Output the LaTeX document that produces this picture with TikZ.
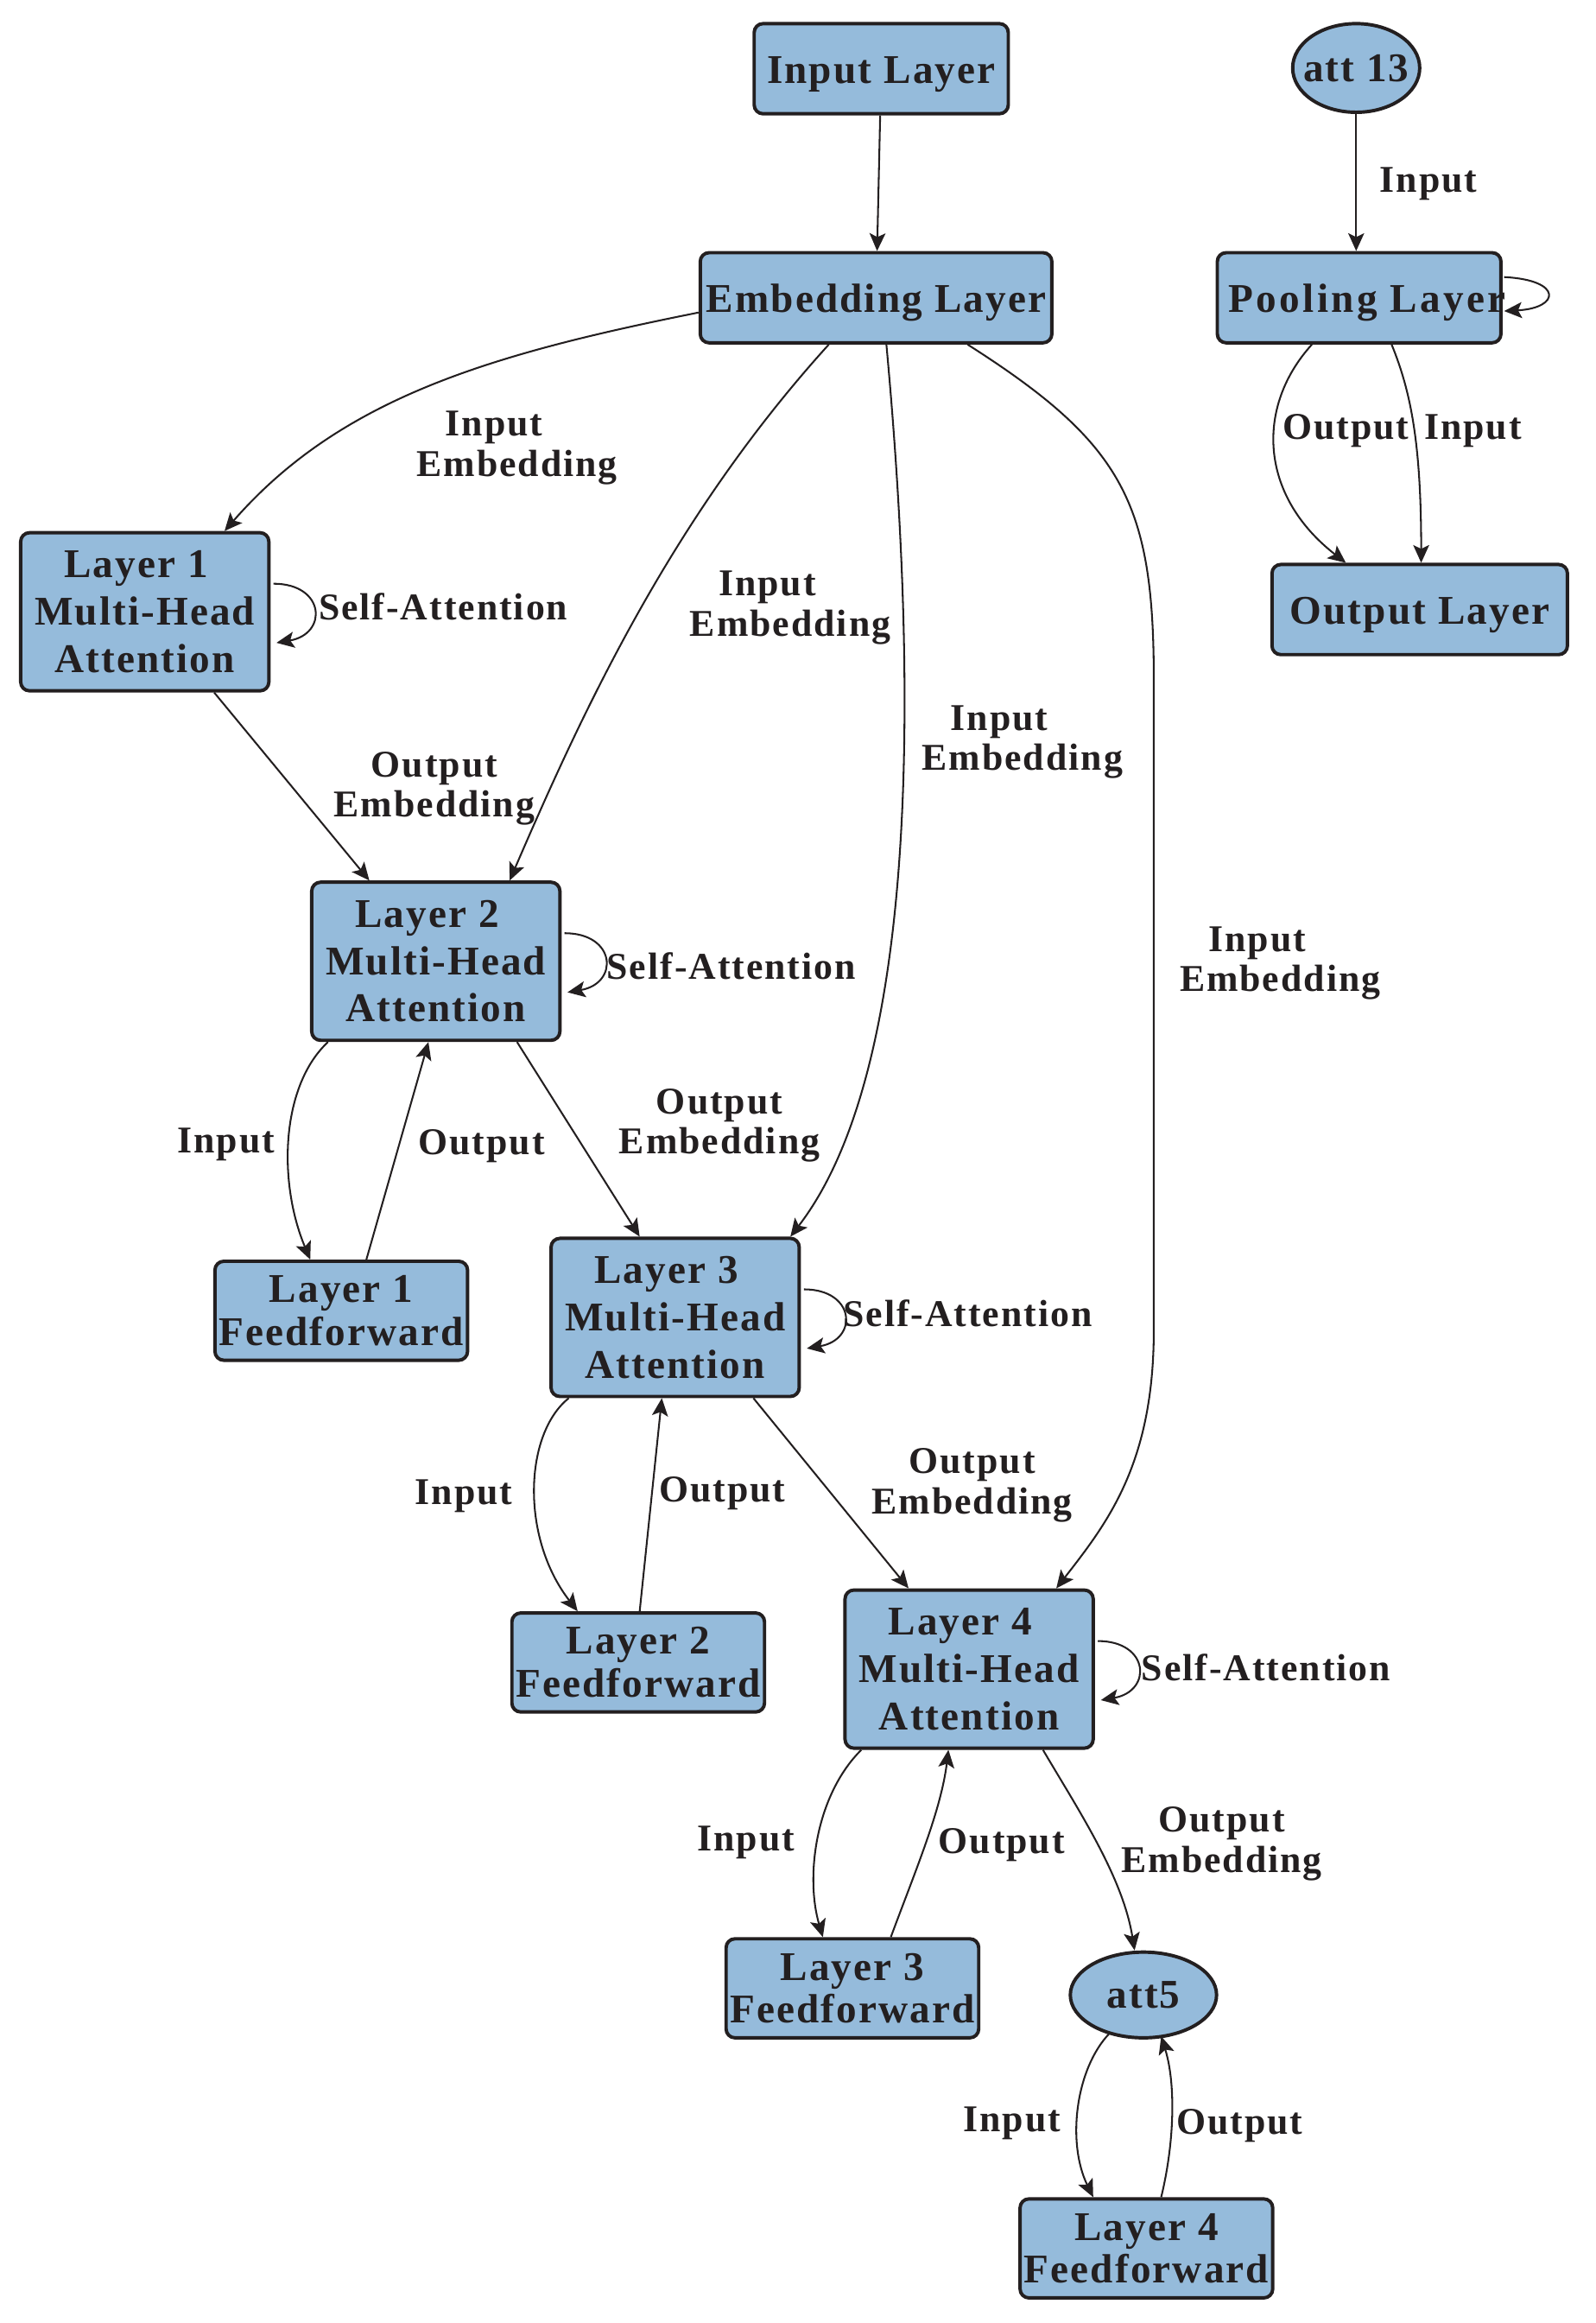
\documentclass[tikz,border=0pt]{standalone}
\usepackage{fontspec}
\setmainfont{Liberation Serif}[LetterSpace=4.5]
\usetikzlibrary{arrows.meta,calc,shapes.geometric}
\definecolor{nodefill}{HTML}{95BBDB}
\definecolor{ink}{HTML}{231F20}
\tikzset{
  box/.style={draw=ink, line width=1.15pt, fill=nodefill, rounded corners=3pt, align=center,
    font=\fontsize{13.8}{16}\selectfont\bfseries, text=ink, inner sep=0pt},
  single/.style={box, text height=10.6pt, text depth=0.5pt},
  mha/.style={box, minimum width=84pt, minimum height=53.5pt},
  ffbox/.style={box, minimum width=85.5pt, minimum height=33.5pt,
    font=\fontsize{13.8}{14.5}\selectfont\bfseries},
  oval/.style={ellipse, draw=ink, line width=1.15pt, fill=nodefill, align=center,
    font=\fontsize{13.8}{16}\selectfont\bfseries, text=ink, inner sep=0pt},
  arr/.style={draw=ink, line width=0.6pt, -{Stealth[length=6pt,width=5.4pt,inset=1.3pt]}},
  lbl/.style={font=\fontsize{12.8}{13.6}\selectfont\bfseries, text=ink, align=center,
    inner sep=0pt, yshift=-1.35pt},
}
\newcommand{\ie}{Input\hspace*{15.5pt}\\Embedding}
\newcommand{\lay}[1]{Layer #1\hspace*{6pt}}
\begin{document}
\begin{tikzpicture}[x=0.5pt,y=-0.5pt]
\useasboundingbox (0,0) rectangle (1080,1572);
% nodes
\node[single, minimum width=86pt, minimum height=30.5pt] (inp) at (596.5,46.5) {Input Layer};
\node[oval, minimum width=43pt, minimum height=30pt] (att13) at (918,46) {\makebox[0pt]{att 13}};
\node[single, minimum width=119pt, minimum height=30.5pt] (emb) at (593,201.5) {Embedding Layer};
\node[single, minimum width=96pt, minimum height=30.5pt] (pool) at (920,201.5)
  {\makebox[80pt][c]{\hspace*{5.5pt}\addfontfeature{LetterSpace=7}Pooling Layer}};
\node[single, minimum width=100pt, minimum height=30.5pt] (outl) at (961,412.5) {Output Layer};
\node[mha] (l1) at (98,414) {\lay{1}\\Multi-Head\\Attention};
\node[mha] (l2) at (295,650.5) {\lay{2}\\Multi-Head\\Attention};
\node[ffbox] (ff1) at (231,887) {Layer 1\\Feedforward};
\node[mha] (l3) at (457,891.5) {\lay{3}\\Multi-Head\\Attention};
\node[ffbox] (ff2) at (432,1125) {Layer 2\\Feedforward};
\node[mha] (l4) at (656,1129.5) {\lay{4}\\Multi-Head\\Attention};
\node[ffbox] (ff3) at (577,1345.5) {Layer 3\\Feedforward};
\node[oval, minimum width=49.5pt, minimum height=29pt] (att5) at (774,1350) {\makebox[0pt]{att5}};
\node[ffbox] (ff4) at (776,1521.5) {Layer 4\\Feedforward};
% labels
\node[lbl] (t1) at (967,122) {Input};
\node[lbl] (t2) at (911,289) {Output};
\node[lbl] (t3) at (997,289) {Input};
\node[lbl] (t4) at (350,300.5) {\ie};
\node[lbl] (t5) at (535,408.5) {\ie};
\node[lbl] (t6) at (692,499.5) {\ie};
\node[lbl] (t7) at (866.5,649) {\ie};
\node[lbl] (t8) at (294,531) {Output\\Embedding};
\node[lbl] (t9) at (487,759) {Output\\Embedding};
\node[lbl] (t10) at (658,1002.5) {Output\\Embedding};
\node[lbl] (t11) at (827,1245) {Output\\Embedding};
\node[lbl] (s1) at (300,408) {Self-Attention};
\node[lbl] (s2) at (495,651) {Self-Attention};
\node[lbl] (s3) at (655,886) {Self-Attention};
\node[lbl] (s4) at (857,1126) {Self-Attention};
\node[lbl] (t12) at (153,772) {Input};
\node[lbl] (t13) at (326,773) {Output};
\node[lbl] (t14) at (314,1010) {Input};
\node[lbl] (t15) at (489,1008) {Output};
\node[lbl] (t16) at (505,1244) {Input};
\node[lbl] (t17) at (678,1246) {Output};
\node[lbl] (t18) at (685,1434) {Input};
\node[lbl] (t19) at (839,1436) {Output};
% connectors
\draw[arr] (inp) -- (emb);
\draw[arr] (att13) -- (att13 |- pool.north);
\draw[arr] ($(pool.east)+(1,-14)$) .. controls +(40,2) and +(38,-2) .. ($(pool.east)+(1,9)$);
\draw[arr] ($(pool.south)+(-32,0)$) .. controls (850,275) and (852,335) .. ($(outl.north)+(-50,0)$);
\draw[arr] ($(pool.south)+(22,0)$) .. controls (955,265) and (962,300) .. ($(outl.north)+(1,0)$);
\draw[arr] ($(emb.west)+(0,10)$) .. controls (330,240) and (230,270) .. ($(l1.north)+(54,0)$);
\draw[arr] ($(emb.south)+(-32,0)$) .. controls (455,350) and (395,480) .. ($(l2.north)+(50,0)$);
\draw[arr] ($(emb.south)+(7,0)$) .. controls (620,450) and (625,720) .. ($(l3.north)+(78,0)$);
\draw[arr] ($(emb.south)+(62,0)$) .. controls (760,300) and (781,340) .. (781,460) -- (781,900)
  .. controls (781,990) and (750,1030) .. ($(l4.north)+(59,0)$);
\foreach \n in {l1,l2,l3,l4}
  \draw[arr] ($(\n.east)+(2,-19)$) .. controls +(35,0) and +(35,-6) .. ($(\n.east)+(4,21)$);
\draw[arr] ($(l1.south)+(47,0)$) -- ($(l2.north)+(-45,0)$);
\draw[arr] ($(l2.south)+(-73,0)$) .. controls (190,735) and (188,800) .. ($(ff1.north)+(-21,0)$);
\draw[arr] ($(ff1.north)+(17,0)$) -- ($(l2.south)+(-5,0)$);
\draw[arr] ($(l2.south)+(55,0)$) -- ($(l3.north)+(-24,0)$);
\draw[arr] ($(l3.south)+(-72,0)$) .. controls (355,970) and (352,1040) .. ($(ff2.north)+(-41,0)$);
\draw[arr] ($(ff2.north)+(1,0)$) -- ($(l3.south)+(-9,0)$);
\draw[arr] ($(l3.south)+(53,0)$) -- ($(l4.north)+(-41,0)$);
\draw[arr] ($(l4.south)+(-73,0)$) .. controls (552,1215) and (545,1270) .. ($(ff3.north)+(-20,0)$);
\draw[arr] ($(ff3.north)+(26,0)$) .. controls (620,1265) and (637,1225) .. ($(l4.south)+(-14,0)$);
\draw[arr] ($(l4.south)+(50,0)$) .. controls (730,1225) and (760,1270) .. ($(att5.north)+(-6,0)$);
\draw[arr] ($(att5.center)+(-23,26)$) .. controls (728,1400) and (722,1450) .. ($(ff4.north)+(-36,0)$);
\draw[arr] ($(ff4.north)+(10,0)$) .. controls (795,1450) and (796,1410) .. ($(att5.center)+(12,28)$);
\end{tikzpicture}
\end{document}
